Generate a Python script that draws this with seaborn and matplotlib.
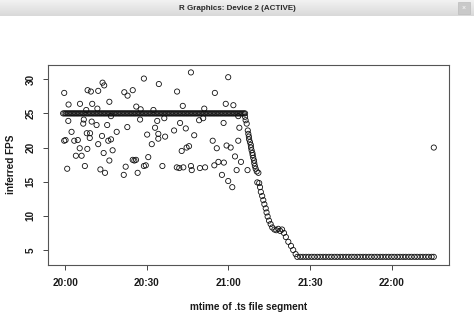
import matplotlib
matplotlib.use("Agg")
import matplotlib.pyplot as plt
from matplotlib.patches import Rectangle
import numpy as np
import pandas as pd
import seaborn as sns

# Segment mtimes are given in minutes after 20:00.
band_minutes = [
    -0.8, -0.3, 0.2, 0.7, 1.2, 1.7, 2.2, 2.7, 3.2, 3.7,
    4.2, 4.7, 5.2, 5.7, 6.2, 6.7, 7.2, 7.7, 8.2, 8.7,
    9.2, 9.7, 10.2, 10.7, 11.2, 11.7, 12.2, 12.7, 13.2, 13.7,
    14.2, 14.7, 15.2, 15.7, 16.2, 16.7, 17.2, 17.7, 18.2, 18.7,
    19.2, 19.7, 20.2, 20.7, 21.2, 21.7, 22.2, 22.7, 23.2, 23.7,
    24.2, 24.7, 25.2, 25.7, 26.2, 26.7, 27.2, 27.7, 28.2, 28.7,
    29.2, 29.7, 30.2, 30.7, 31.2, 31.7, 32.2, 32.7, 33.2, 33.7,
    34.2, 34.7, 35.2, 35.7, 36.2, 36.7, 37.2, 37.7, 38.2, 38.7,
    39.2, 39.7, 40.2, 40.7, 41.2, 41.7, 42.2, 42.7, 43.2, 43.7,
    44.2, 44.7, 45.2, 45.7, 46.2, 46.7, 47.2, 47.7, 48.2, 48.7,
    49.2, 49.7, 50.2, 50.7, 51.2, 51.7, 52.2, 52.7, 53.2, 53.7,
    54.2, 54.7, 55.2, 55.7, 56.2, 56.7, 57.2, 57.7, 58.2, 58.7,
    59.2, 59.7, 60.2, 60.7, 61.2, 61.7, 62.2, 62.7, 63.2, 63.7,
    64.2, 64.7, 65.2, 65.7, 66.1,
]
band_fps = [25.0] * len(band_minutes)

jitter_minutes = [
    -0.4, 8.2, 9.4, 12.1, 13.7, 14.3, 28.9, 34.4, 21.7, 22.9, 24.8, 46.2, 41.1, 55.0, 59.9,
    1.2, 5.4, 9.9, 16.2, 11.8, 26.1, 43.2, 51.1, 59.0, 61.8, 27.7, 32.4, 7.7,
    1.1, 6.8, 6.6, 9.7, 11.5, 15.4, 16.8, 22.8, 27.5, 33.8, 36.4, 33.0, 42.2, 44.3, 49.2,
    50.7, 58.2, 63.6, 64.0,
    2.3, -0.4, 0.1, 3.3, 4.6, 7.9, 9.1, 9.0, 13.5, 15.8, 16.8, 18.9, 12.1, 5.3, 8.1, 14.1, 17.4,
    30.1, 34.2, 34.2, 36.7, 40.0, 31.8, 42.8, 44.6, 45.5, 47.4, 54.2, 55.7, 59.3, 60.8, 63.6,
    3.9, 6.0, 7.2, 0.7, 12.9, 14.6, 16.2, 22.2, 21.5, 26.6, 24.8, 25.4, 26.0, 28.9, 29.6,
    30.5, 35.7, 41.0, 41.9, 43.4, 46.2, 46.5, 49.5, 51.4, 54.8, 56.3, 57.6, 58.3, 63.0,
    59.9, 61.4, 62.4, 64.6, 67.0,
]
jitter_fps = [
    28.0, 28.4, 28.2, 28.3, 29.5, 29.1, 30.1, 29.3, 28.1, 27.6, 28.4, 31.0, 28.2, 28.0, 30.3,
    26.3, 26.4, 26.4, 26.7, 25.7, 26.0, 26.1, 25.7, 26.4, 26.2, 25.6, 25.5, 25.5,
    23.9, 24.1, 23.5, 23.8, 23.3, 23.3, 24.6, 23.0, 24.1, 23.9, 24.3, 22.9, 23.6, 22.8, 24.0,
    24.3, 23.6, 24.6, 22.9,
    22.3, 21.0, 21.1, 21.0, 21.1, 22.1, 22.1, 21.4, 21.7, 21.0, 21.2, 22.3, 20.5, 19.9, 19.8, 19.2, 19.6,
    21.9, 21.3, 22.0, 21.6, 22.5, 20.5, 19.5, 20.0, 20.2, 21.8, 21.0, 19.9, 20.3, 20.0, 21.0,
    18.8, 18.8, 17.3, 16.9, 16.8, 16.3, 18.1, 17.2, 16.0, 16.3, 18.2, 18.1, 18.2, 17.3, 17.4,
    18.6, 17.3, 17.1, 17.0, 17.1, 17.3, 16.7, 17.0, 17.1, 17.4, 17.9, 16.0, 17.8, 16.7,
    15.1, 14.2, 18.7, 17.9, 16.7,
]

drop_minutes = [
    66.1, 66.3, 66.7, 67.1, 67.3, 67.5, 67.6, 67.9, 68.2, 68.3, 68.5, 68.8, 68.9, 69.1,
    69.4, 69.5, 69.7, 70.0, 70.4, 71.0, 70.6, 71.3, 71.6, 71.9, 72.4, 72.8, 73.2, 73.7,
    74.0, 74.4, 74.9, 75.5, 76.1, 76.9, 77.6, 78.3, 79.0, 79.7, 80.4,
    81.1, 82.0, 83.0, 83.8, 84.7,
]
drop_fps = [
    24.5, 24.0, 23.5, 22.5, 22.0, 21.6, 21.2, 20.8, 20.4, 20.0, 19.6, 19.2, 18.9, 18.5,
    18.1, 17.7, 17.3, 16.9, 16.5, 16.3, 14.9, 14.8, 14.2, 13.5, 12.9, 12.3, 11.7, 11.1,
    10.5, 9.9, 9.3, 8.8, 8.3, 8.0, 7.9, 8.1, 7.8, 8.0, 7.5,
    6.9, 6.2, 5.6, 5.0, 4.4,
]

floor_minutes = [
    85.3, 86.4, 87.4, 88.5, 89.5, 90.6, 91.6, 92.7, 93.7, 94.8, 95.8, 96.9, 97.9, 99.0,
    100.0, 101.1, 102.1, 103.2, 104.2, 105.3, 106.3, 107.4, 108.4, 109.5, 110.5, 111.6,
    112.6, 113.7, 114.7, 115.8, 116.8, 117.9, 118.9, 120.0, 121.0, 122.1, 123.1, 124.2,
    125.2, 126.3, 127.3, 128.4, 129.4, 130.5, 131.5, 132.6, 133.6, 134.7, 135.5,
]
floor_fps = [4.0] * len(floor_minutes)

last_minutes = [135.5]
last_fps = [20.0]

x_tick_minutes = [0, 30, 60, 90, 120]
x_tick_labels = ["20:00", "20:30", "21:00", "21:30", "22:00"]
y_ticks = [5, 10, 15, 20, 25, 30]

segments = pd.DataFrame({
    "minutes": band_minutes + jitter_minutes + drop_minutes + floor_minutes + last_minutes,
    "fps": band_fps + jitter_fps + drop_fps + floor_fps + last_fps,
})

sns.set_style("ticks")
plt.rcParams["font.family"] = ["Liberation Sans", "DejaVu Sans"]

W, H = 474, 325
fig = plt.figure(figsize=(W / 100, H / 100), dpi=100)
fig.patch.set_facecolor("white")

# window title bar
bar = fig.add_axes([0, 1 - 16 / H, 1, 16 / H])
grad = np.linspace(0, 1, 32).reshape(-1, 1)
bar.imshow(grad, aspect="auto", cmap=matplotlib.colors.LinearSegmentedColormap.from_list(
    "bar", ["#f2f2f2", "#d9d9d9"]), extent=[0, 1, 0, 1])
bar.set_xlim(0, 1)
bar.set_ylim(0, 1)
bar.axis("off")
bar.text(0.501, 0.5, "R Graphics: Device 2 (ACTIVE)", ha="center", va="center",
         fontsize=5.8, fontweight="bold", color="#2a2a2a")
bar.add_patch(Rectangle((458 / W, 0.15), 12 / W, 0.7, facecolor="#c9c9c9",
                        edgecolor="#bdbdbd", lw=0.5))
bar.text(464 / W, 0.5, "×", ha="center", va="center", fontsize=5, color="white")

# plotting region
x0, x1, y0, y1 = 48.3, 449.3, 64.7, 264.7
ax = fig.add_axes([x0 / W, 1 - y1 / H, (x1 - x0) / W, (y1 - y0) / H])
sns.scatterplot(data=segments, x="minutes", y="fps", ax=ax, marker="o", s=14,
                linewidth=0.6, legend=False)
for coll in ax.collections:
    coll.set_facecolor("none")
    coll.set_edgecolor("#111111")
    coll.set_linewidth(0.6)

ax.set_xlim(-6.25, 141.2)
ax.set_ylim(2.85, 32.13)
ax.set_xticks(x_tick_minutes)
ax.set_xticklabels(x_tick_labels, fontweight="bold")
ax.set_yticks(y_ticks)
ax.set_yticklabels([str(v) for v in y_ticks], fontweight="bold", rotation=90, va="center")
ax.tick_params(direction="out", length=3.3, width=0.7, color="#444444",
               labelsize=7.2, labelcolor="#1a1a1a", pad=6)

for side in ["left", "right", "top", "bottom"]:
    ax.spines[side].set_visible(True)
    ax.spines[side].set_color("#555555")
    ax.spines[side].set_linewidth(0.8)

ax.set_xlabel("mtime of .ts file segment", fontsize=7.2, fontweight="bold", color="#1a1a1a")
ax.set_ylabel("inferred FPS", fontsize=7.2, fontweight="bold", color="#1a1a1a")
ax.xaxis.set_label_coords(0.5, (y1 - 306.7) / (y1 - y0))
ax.xaxis.label.set_va("center")
ax.yaxis.set_label_coords((11 - x0) / (x1 - x0), 0.5)
ax.yaxis.label.set_va("center")

fig.savefig("out.png", dpi=100, facecolor="white")
